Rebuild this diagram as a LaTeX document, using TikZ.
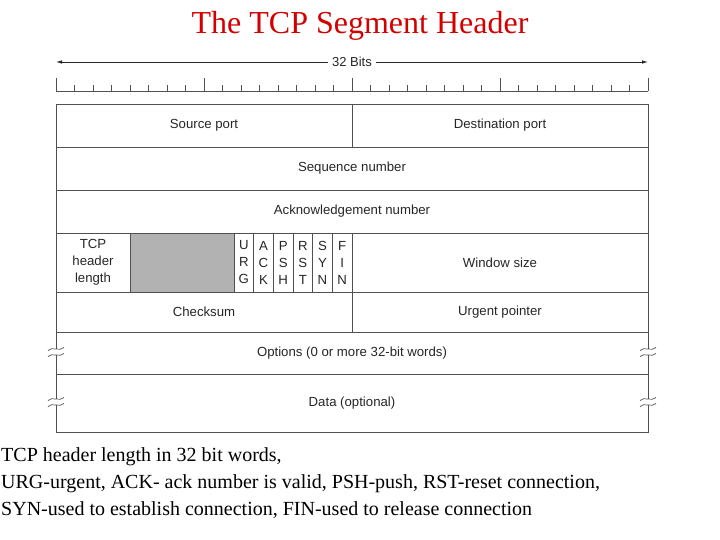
\documentclass[tikz,border=0pt]{standalone}
\usepackage{fontspec}
\setmainfont{Liberation Serif}
\setsansfont{Liberation Sans}
\usepackage{xcolor}
\usepackage{tikz}
\usetikzlibrary{arrows.meta,positioning}
\definecolor{titleRed}{RGB}{210,0,0}
\definecolor{lineGray}{RGB}{80,80,80}
\definecolor{unusedGray}{RGB}{178,178,178}
\tikzstyle{field} = [draw=lineGray, line width=0.9pt, inner sep=0pt, outer sep=0pt,
	anchor=north west, align=center, text=black!85,
	font=\sffamily\fontsize{13.2}{17}\selectfont]
\tikzstyle{rulerTick} = [draw=lineGray, line width=0.8pt]
\tikzstyle{note} = [anchor=base west, inner sep=0pt, font=\fontsize{20}{22}\selectfont]
% Bruchzeichen am Rand (x, y)
\newcommand{\cutmark}[2]{%
	\fill[white] (#1-2,#2-3) rectangle (#1+2,#2+3);
	\draw[lineGray, line width=0.7pt] (#1-8,#2-1.5) .. controls (#1-4,#2-6) and (#1+4,#2) .. (#1+8,#2-4.5);
	\draw[lineGray, line width=0.7pt] (#1-8,#2+4.5) .. controls (#1-4,#2) and (#1+4,#2+6) .. (#1+8,#2+1.5);
}

\begin{document}
\begin{tikzpicture}[x=1pt, y=-1pt]
		\useasboundingbox (0,0) rectangle (720,540);
		\node[anchor=base, text=titleRed, font=\fontsize{32}{36}\selectfont] (title) at (360,34) {The TCP Segment Header};	% Titel
		
		% 32 Bits Pfeil
		\coordinate (bitsL) at (56,62);
		\coordinate (bitsR) at (648,62);
		\draw[{Latex[length=6pt,width=3.5pt]}-{Latex[length=6pt,width=3.5pt]}, line width=0.8pt, black!85] (bitsL) -- node[fill=white, inner sep=4pt, font=\sffamily\fontsize{13}{15}\selectfont] (bits) {32 Bits} (bitsR);
		
		% Skala
		\coordinate (rulerL) at (56,91);
		\coordinate (rulerR) at (648,91);
		\draw[rulerTick] (rulerL) -- (rulerR);
		\foreach \i in {0,...,32}
			\draw[rulerTick] (56+18.5*\i,91) -- (56+18.5*\i,85);
		\foreach \i in {0,8,...,32}
			\draw[rulerTick] (56+18.5*\i,91) -- (56+18.5*\i,78);
		
		% Felder
		\node[field, minimum width=296pt, minimum height=43pt] (src) at (56,104) {Source port};
		\node[field, minimum width=296pt, minimum height=43pt, right=0pt of src] (dst) {Destination port};
		\node[field, minimum width=592pt, minimum height=43pt, below right=0pt of src.south west] (seq) {Sequence number};
		\node[field, minimum width=592pt, minimum height=43pt, below right=0pt of seq.south west] (ack) {Acknowledgement number};
		\node[field, minimum width=74pt, minimum height=59pt, below right=0pt of ack.south west] (hlen) {TCP\\header\\length};
		\node[field, minimum width=104pt, minimum height=59pt, fill=unusedGray, right=0pt of hlen] (unused) {};	% unbenutzt
		\foreach \a/\b/\c [count=\i from 0] in {U/R/G, A/C/K, P/S/H, R/S/T, S/Y/N, F/I/N}
			\node[field, minimum width=19.667pt, minimum height=59pt] (flag\i) at (234+19.667*\i,233) {\a\\\b\\\c};
		\node[field, minimum width=296pt, minimum height=59pt, right=0pt of flag5] (window) {Window size};
		\node[field, minimum width=296pt, minimum height=40pt, below right=0pt of hlen.south west] (checksum) {Checksum};
		\node[field, minimum width=296pt, minimum height=40pt, right=0pt of checksum] (urgent) {Urgent pointer};
		\node[field, minimum width=592pt, minimum height=42pt, below right=0pt of checksum.south west] (options) {Options (0 or more 32-bit words)};
		\node[field, minimum width=592pt, minimum height=58pt, below right=0pt of options.south west] (data) {Data (optional)};
		
		% Bruchzeichen
		\cutmark{56}{352}
		\cutmark{648}{352}
		\cutmark{56}{402}
		\cutmark{648}{402}
		
		% Erklaerung
		\node[note] (note1) at (1,461) {TCP header length in 32 bit words,};
		\node[note] (note2) at (1,488) {URG-urgent, ACK- ack number is valid, PSH-push, RST-reset connection,};
		\node[note] (note3) at (1,515) {SYN-used to establish connection, FIN-used to release connection};
		
		\end{tikzpicture}
\end{document}
